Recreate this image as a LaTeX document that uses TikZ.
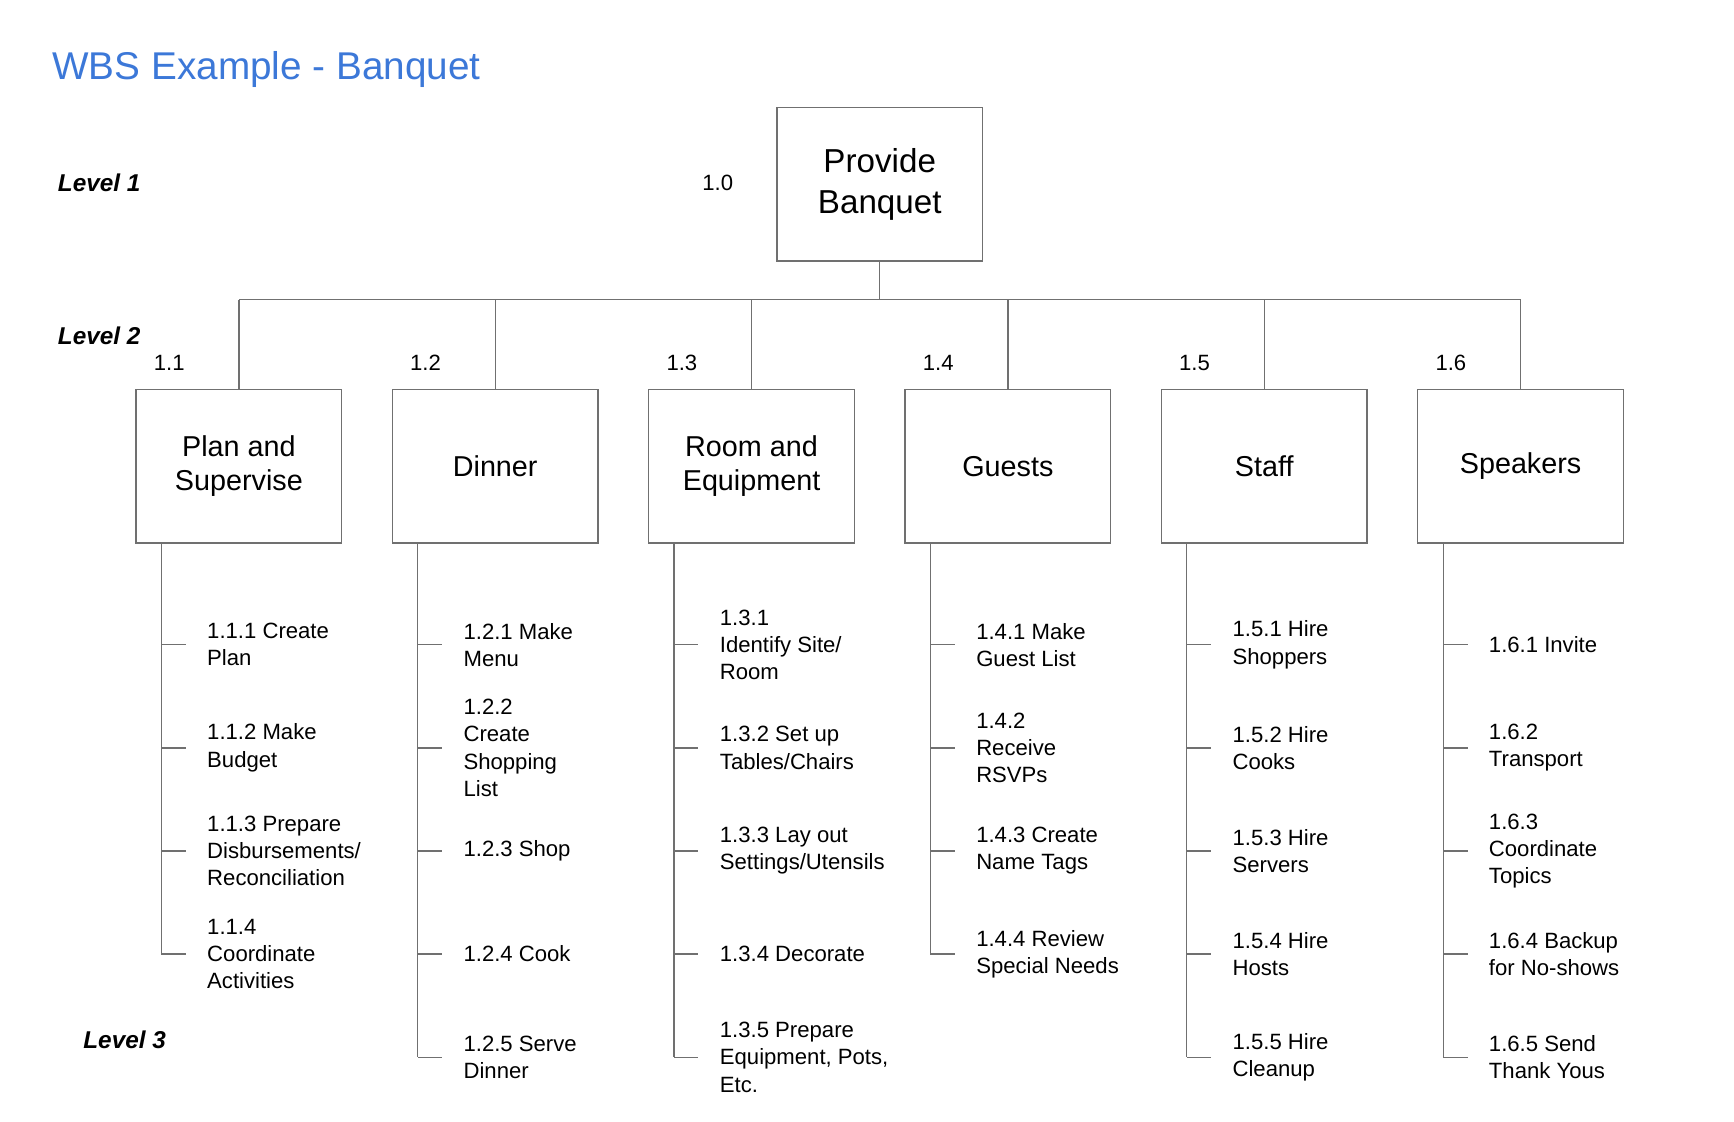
\documentclass[tikz,border=0pt]{standalone}
\usepackage{fontspec}
\setmainfont{Liberation Sans}
\definecolor{ttl}{HTML}{3C78D8}
\definecolor{ln}{HTML}{707070}
\begin{document}
\begin{tikzpicture}[x=0.5pt,y=-0.5pt,
  box/.style={draw=ln,line width=0.6pt,minimum width=93pt,minimum height=69.5pt,align=center,font=\fontsize{13}{15.5}\selectfont},
  lvl/.style={font=\fontsize{11}{13}\selectfont\bfseries\itshape,anchor=west},
  num/.style={font=\fontsize{10}{12}\selectfont},
  item/.style={anchor=west,align=left,font=\fontsize{10}{12.3}\selectfont,inner sep=0pt},
  wire/.style={draw=ln,line width=0.6pt}]
\useasboundingbox (0,0) rectangle (1568,1014.5);
\node[anchor=west,text=ttl,font=\fontsize{17.5}{20}\selectfont,inner sep=0pt] (title) at (47,63) {WBS Example - Banquet};
\node[lvl,inner sep=0pt] (l1) at (52,165) {Level 1};
\node[lvl,inner sep=0pt] (l2) at (52,304) {Level 2};
\node[lvl,inner sep=0pt] (l3) at (75,940) {Level 3};
\node[box,font=\fontsize{15}{18.5}\selectfont] (top) at (795.5,166.5) {Provide\\Banquet};
\node[num] (n10) at (649,165) {1.0};
\coordinate (busL) at (216,271);
\coordinate (busR) at (1375,271);
\coordinate (busM) at (795.5,271);
\draw[wire] (top.south) -- (busM);
\draw[wire] (busL) -- (busR);
\foreach \k/\t in {1/{Plan and\\Supervise},2/Dinner,3/{Room and\\Equipment},4/Guests,5/Staff,6/Speakers}{
  \pgfmathsetmacro{\cx}{216+231.8*(\k-1)}
  \node[box] (b\k) at (\cx,421.5) {\t};
  \node[num] (n\k) at (\cx-63,328) {1.\k};
  \coordinate (bus\k) at (\cx,271);
  \draw[wire] (bus\k) -- (b\k.north);
}
\newcommand{\col}[2]{%
  \pgfmathsetmacro{\sx}{146+231.8*(#1-1)}
  \foreach \t [count=\j] in {#2}{
    \pgfmathsetmacro{\ty}{583+93.25*(\j-1)}
    \coordinate (t#1-\j) at (\sx,\ty);
    \coordinate (e#1-\j) at (\sx+22,\ty);
    \node[item] (i#1-\j) at (\sx+41,\ty) {\t};
    \draw[wire] (t#1-\j) -- (e#1-\j);
    \xdef\last{\j}
  }
  \draw[wire] (b#1.south -| t#1-1) -- (t#1-\last);
}
\col{1}{{1.1.1 Create\\Plan},{1.1.2 Make\\Budget},{1.1.3 Prepare\\Disbursements/\\Reconciliation},{1.1.4\\Coordinate\\Activities}}
\col{2}{{1.2.1 Make\\Menu},{1.2.2\\Create\\Shopping\\List},{1.2.3 Shop},{1.2.4 Cook},{1.2.5 Serve\\Dinner}}
\col{3}{{1.3.1\\Identify Site/\\Room},{1.3.2 Set up\\Tables/Chairs},{1.3.3 Lay out\\Settings/Utensils},{1.3.4 Decorate},{1.3.5 Prepare\\Equipment, Pots,\\Etc.}}
\col{4}{{1.4.1 Make\\Guest List},{1.4.2\\Receive\\RSVPs},{1.4.3 Create\\Name Tags},{1.4.4 Review\\Special Needs}}
\col{5}{{1.5.1 Hire\\Shoppers},{1.5.2 Hire\\Cooks},{1.5.3 Hire\\Servers},{1.5.4 Hire\\Hosts},{1.5.5 Hire\\Cleanup}}
\col{6}{{1.6.1 Invite},{1.6.2\\Transport},{1.6.3\\Coordinate\\Topics},{1.6.4 Backup\\for No-shows},{1.6.5 Send\\Thank Yous}}
\end{tikzpicture}
\end{document}
